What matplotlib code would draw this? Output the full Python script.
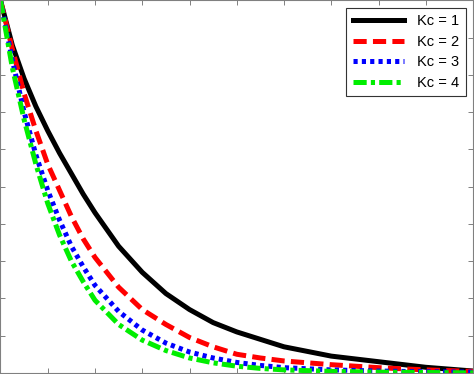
import matplotlib
matplotlib.use('Agg')
import matplotlib.pyplot as plt

# values
x = [0, 0.25, 0.5, 0.75, 1, 1.25, 1.5, 1.75, 2, 2.5, 3, 3.5, 4, 4.5, 5, 5.5, 6, 7, 8, 9, 10]
kc1 = [1.0, 0.88, 0.79, 0.715, 0.65, 0.59, 0.535, 0.48, 0.43, 0.34, 0.27, 0.213, 0.17, 0.135, 0.11, 0.09, 0.07,
       0.045, 0.03, 0.015, 0.005]
kc2 = [1.0, 0.87, 0.75, 0.65, 0.56, 0.49, 0.42, 0.36, 0.31, 0.23, 0.17, 0.13, 0.095, 0.07, 0.05, 0.04, 0.032,
       0.022, 0.014, 0.008, 0.004]
kc3 = [1.0, 0.84, 0.70, 0.585, 0.49, 0.41, 0.34, 0.285, 0.235, 0.165, 0.115, 0.08, 0.056, 0.04, 0.028, 0.02, 0.014,
       0.008, 0.005, 0.003, 0.002]
kc4 = [1.0, 0.82, 0.68, 0.56, 0.455, 0.37, 0.30, 0.245, 0.195, 0.13, 0.088, 0.06, 0.04, 0.027, 0.018, 0.012, 0.008,
       0.004, 0.002, 0.001, 0.0]
labels = ['Kc = 1', 'Kc = 2', 'Kc = 3', 'Kc = 4']

plt.rcParams['font.family'] = ['Liberation Sans', 'DejaVu Sans']
plt.rcParams['lines.scale_dashes'] = False

fig = plt.figure(figsize=(4.74, 3.74), dpi=100)
ax = fig.add_axes([0.001, 0.003, 0.997, 0.996])

lw = 3.6
ax.plot(x, kc1, color='black', linewidth=lw, label=labels[0])
ax.plot(x, kc2, color='#ff0000', linewidth=lw, dashes=(9.5, 4.5), label=labels[1])
ax.plot(x, kc3, color='#0000ff', linewidth=lw, dashes=(3.0, 3.0), label=labels[2])
ax.plot(x, kc4, color='#00ee00', linewidth=lw, dashes=(9.5, 3.0, 3.0, 3.0), label=labels[3])

ax.set_xlim(0, 10)
ax.set_ylim(0, 1)
ax.set_xticks(range(0, 11))
ax.set_yticks([i / 10 for i in range(11)])
ax.tick_params(direction='in', length=3.6, width=0.7, color='#808080',
               top=True, right=True, labelbottom=False, labelleft=False)
for s in ax.spines.values():
    s.set_color('#808080')
    s.set_linewidth(0.8)

leg = ax.legend(loc='upper right', fontsize=10.5, handlelength=3.5,
                labelspacing=0.45, borderpad=0.45, handletextpad=0.9,
                fancybox=False, framealpha=1, edgecolor='#333333',
                borderaxespad=0.5)
leg.get_frame().set_linewidth(0.8)

fig.savefig('out.png', dpi=100)
